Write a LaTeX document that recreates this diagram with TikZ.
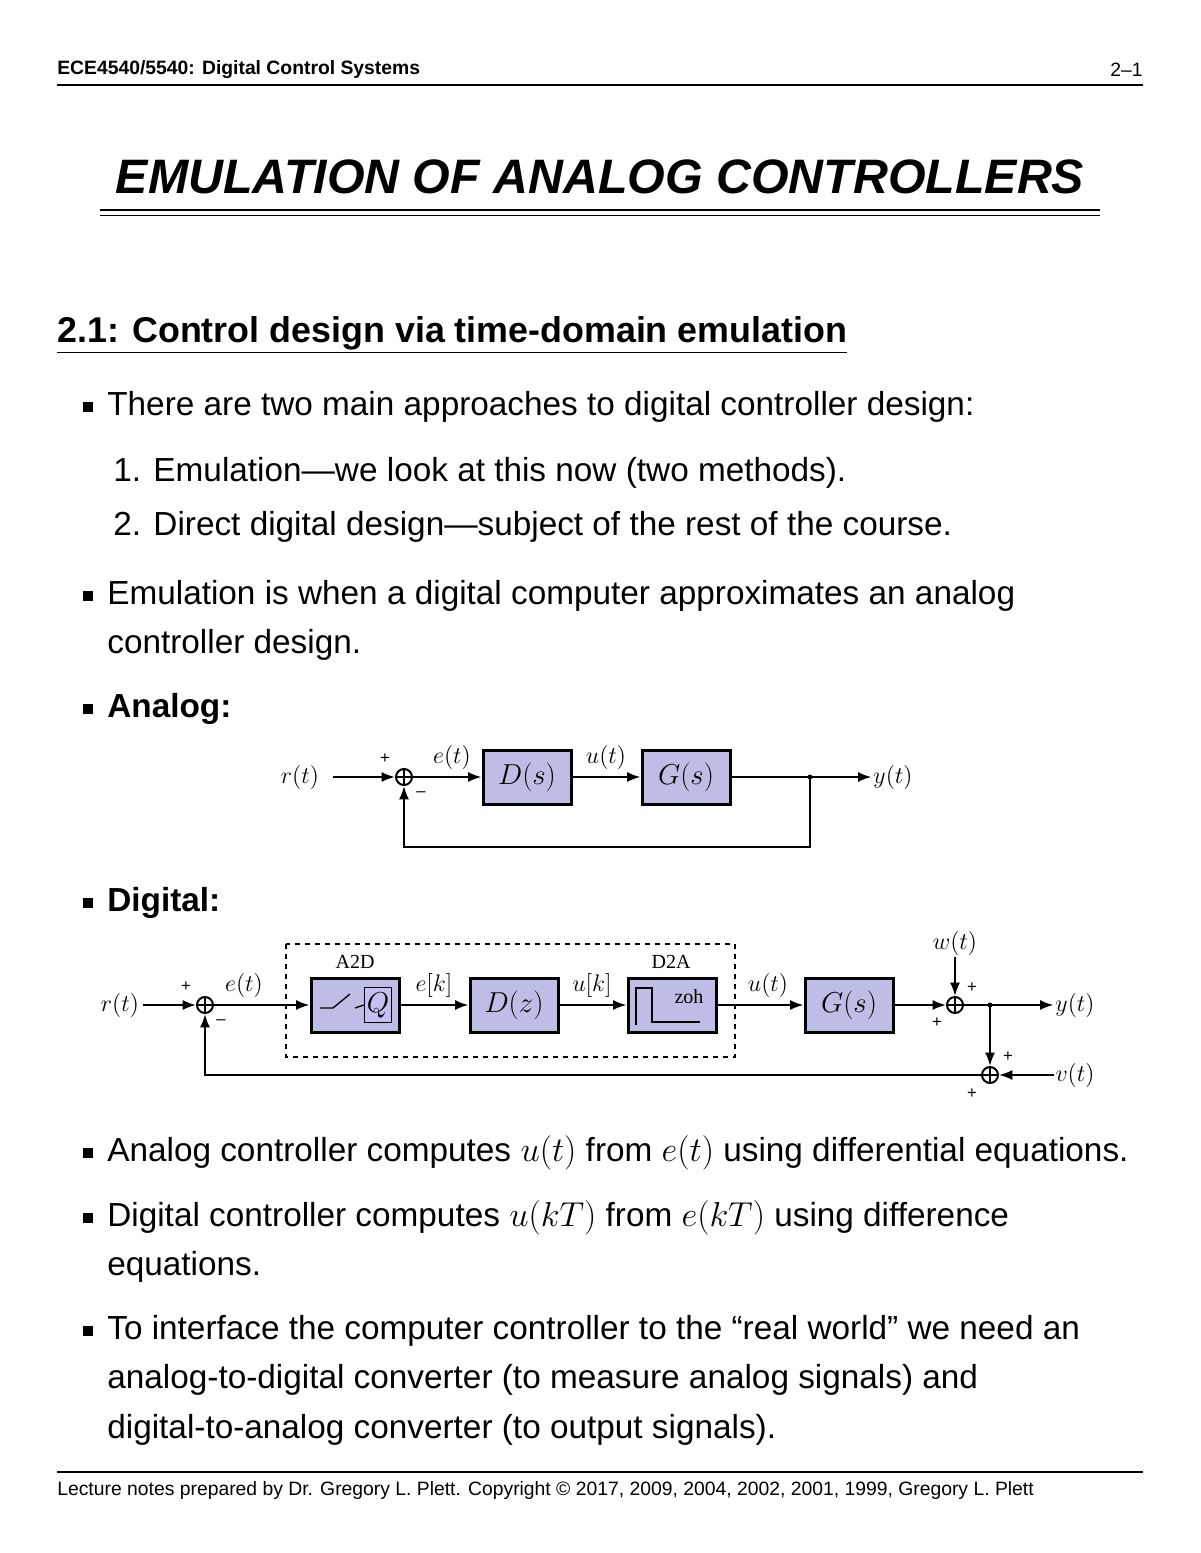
\documentclass[tikz,border=0pt]{standalone}
\usepackage{fontspec}
\setmainfont{Liberation Sans}
\newfontfamily\tms{Liberation Serif}
\usetikzlibrary{arrows.meta}
\begin{document}
\begin{tikzpicture}[x=0.6pt,y=-0.6pt,
 body/.style={anchor=west,inner sep=0pt,font=\fontsize{20}{23}\selectfont},
 blk/.style={draw,line width=1.8pt,fill=blockfill,minimum width=52.8pt,minimum height=32.4pt,inner sep=0pt,font=\fontsize{16}{18}\selectfont},
 sig/.style={inner sep=1pt,font=\fontsize{14}{16}\selectfont},
 sgn/.style={inner sep=0pt,font=\fontsize{10}{12}\selectfont},
 sumc/.style={draw,circle,line width=1.2pt,minimum size=9.6pt,inner sep=0pt},
 ar/.style={line width=1.2pt,-{Latex[length=8pt,width=6pt]}},
 ln/.style={line width=1.2pt},
 bul/.style={fill,minimum size=6pt,inner sep=0pt}]
\definecolor{blockfill}{RGB}{189,189,230}
\useasboundingbox (0,0) rectangle (1200,1553);
% header
\node[anchor=west,inner sep=0pt,font=\fontsize{11.6}{13}\selectfont\bfseries] (hd) at (57,70) {ECE4540/5540: Digital Control Systems};
\node[anchor=east,inner sep=0pt,font=\fontsize{11.6}{13}\selectfont] (pg) at (1143,70) {2--1};
\draw[line width=1pt] (57,85) -- (1143,85);
\node[inner sep=0pt,font=\fontsize{29}{32}\selectfont\bfseries\itshape] (ttl) at (600,177) {EMULATION OF ANALOG CONTROLLERS};
\draw[line width=0.8pt] (100,210) -- (1100,210);
\draw[line width=0.8pt] (100,215.5) -- (1100,215.5);
\node[anchor=west,inner sep=0pt,font=\fontsize{21.5}{24}\selectfont\bfseries] (sec) at (57,335) {\underline{2.1: Control design via time-domain emulation}};
% bullets
\foreach \yy in {407,596,709,903,1153,1218,1331} \node[bul] at (88,\yy) {};
\node[body] (t1) at (107,407) {There are two main approaches to digital controller design:};
\node[body] (t2) at (113,473) {1. Emulation---we look at this now (two methods).};
\node[body] (t3) at (113,527) {2. Direct digital design---subject of the rest of the course.};
\node[body] (t4) at (107,596) {Emulation is when a digital computer approximates an analog};
\node[body] (t5) at (107,645) {controller design.};
\node[body,font=\fontsize{20}{23}\selectfont\bfseries] (t6) at (107,709) {Analog:};
\node[body,font=\fontsize{20}{23}\selectfont\bfseries] (t7) at (107,903) {Digital:};
\node[body] (t8) at (107,1153) {Analog controller computes $u(t)$ from $e(t)$ using differential equations.};
\node[body] (t9) at (107,1218) {Digital controller computes $u(kT)$ from $e(kT)$ using difference};
\node[body] (t10) at (107,1267) {equations.};
\node[body] (t11) at (107,1331) {To interface the computer controller to the ``real world'' we need an};
\node[body] (t12) at (107,1380) {analog-to-digital converter (to measure analog signals) and};
\node[body] (t13) at (107,1430) {digital-to-analog converter (to output signals).};
% footer
\draw[line width=1pt] (57,1472) -- (1143,1472);
\node[anchor=west,inner sep=0pt,font=\fontsize{11.6}{13}\selectfont] (ft) at (57,1490) {Lecture notes prepared by Dr. Gregory L. Plett. Copyright \textcopyright{} 2017, 2009, 2004, 2002, 2001, 1999, Gregory L. Plett};
% ---------- analog diagram
\node[sig] (ar) at (300,777) {$r(t)$};
\node[sumc] (as) at (404,777) {};
\draw[line width=0.8pt] (as.north)--(as.south) (as.west)--(as.east);
\node[blk] (aD) at (527,777) {$D(s)$};
\node[blk] (aG) at (686,777) {$G(s)$};
\coordinate (ad) at (810,777);
\node[sig] (ay) at (893,777) {$y(t)$};
\coordinate (ab1) at (810,847);
\coordinate (ab2) at (404,847);
\draw[ar] (333,777) -- (as.west);
\draw[ar] (as.east) -- (aD.west);
\draw[ar] (aD.east) -- (aG.west);
\draw[ar] (aG.east) -- (ay.west);
\fill (ad) circle (2.5);
\draw[ar] (ad) -- (ab1) -- (ab2) -- (as.south);
\node[sgn] at (385,759) {+};
\node[sgn] at (421,794) {--};
\node[sig] at (452,757) {$e(t)$};
\node[sig] at (606,757) {$u(t)$};
% ---------- digital diagram
\draw[dashed,line width=0.8pt] (286,944) rectangle (735,1057);
\node[sig] (dr) at (120,1005) {$r(t)$};
\node[sumc] (ds) at (205,1005) {};
\draw[line width=0.8pt] (ds.north)--(ds.south) (ds.west)--(ds.east);
\node[blk] (dA) at (355,1005) {};
\node[draw,line width=0.8pt,fill=blockfill!80!blue!60,minimum width=16pt,minimum height=21pt,inner sep=0pt,font=\fontsize{16}{18}\selectfont] (dQ) at (378,1005) {$Q$};
\draw[line width=0.8pt] (320,1008) -- (333,1008) -- (350,994) (355,1008) -- (dQ.west);
\node[blk] (dD) at (514,1005) {$D(z)$};
\node[blk] (dH) at (672,1005) {};
\draw[line width=0.8pt] (636,1025) -- (636,988) -- (652,988) -- (652,1022) -- (700,1022);
\node[font=\fontsize{12}{14}\selectfont\tms,inner sep=0pt] at (689,997) {zoh};
\node[blk] (dG) at (849,1005) {$G(s)$};
\node[sumc] (ds2) at (955,1005) {};
\draw[line width=0.8pt] (ds2.north)--(ds2.south) (ds2.west)--(ds2.east);
\node[sig] (dw) at (955,943) {$w(t)$};
\coordinate (dd) at (990,1005);
\node[sig] (dy) at (1075,1005) {$y(t)$};
\node[sumc] (ds3) at (990,1075) {};
\draw[line width=0.8pt] (ds3.north)--(ds3.south) (ds3.west)--(ds3.east);
\node[sig] (dv) at (1075,1075) {$v(t)$};
\coordinate (db) at (205,1075);
\draw[ar] (143,1005) -- (ds.west);
\draw[ar] (ds.east) -- (dA.west);
\draw[ar] (dA.east) -- (dD.west);
\draw[ar] (dD.east) -- (dH.west);
\draw[ar] (dH.east) -- (dG.west);
\draw[ar] (dG.east) -- (ds2.west);
\draw[ar] (dw.south) -- (ds2.north);
\draw[ar] (ds2.east) -- (dy.west);
\fill (dd) circle (2.5);
\draw[ar] (dd) -- (ds3.north);
\draw[ar] (dv.west) -- (ds3.east);
\draw[ar] (ds3.west) -- (db) -- (ds.south);
\node[font=\fontsize{12}{14}\selectfont\tms,inner sep=0pt] at (355,962) {A2D};
\node[font=\fontsize{12}{14}\selectfont\tms,inner sep=0pt] at (671,962) {D2A};
\node[sgn] at (186,987) {+};
\node[sgn] at (221,1022) {--};
\node[sgn] at (972,988) {+};
\node[sgn] at (937,1023) {+};
\node[sgn] at (1008,1057) {+};
\node[sgn] at (972,1094) {+};
\node[sig] at (244,985) {$e(t)$};
\node[sig] at (434,985) {$e[k]$};
\node[sig] at (592,985) {$u[k]$};
\node[sig] at (768,985) {$u(t)$};
\end{tikzpicture}
\end{document}
